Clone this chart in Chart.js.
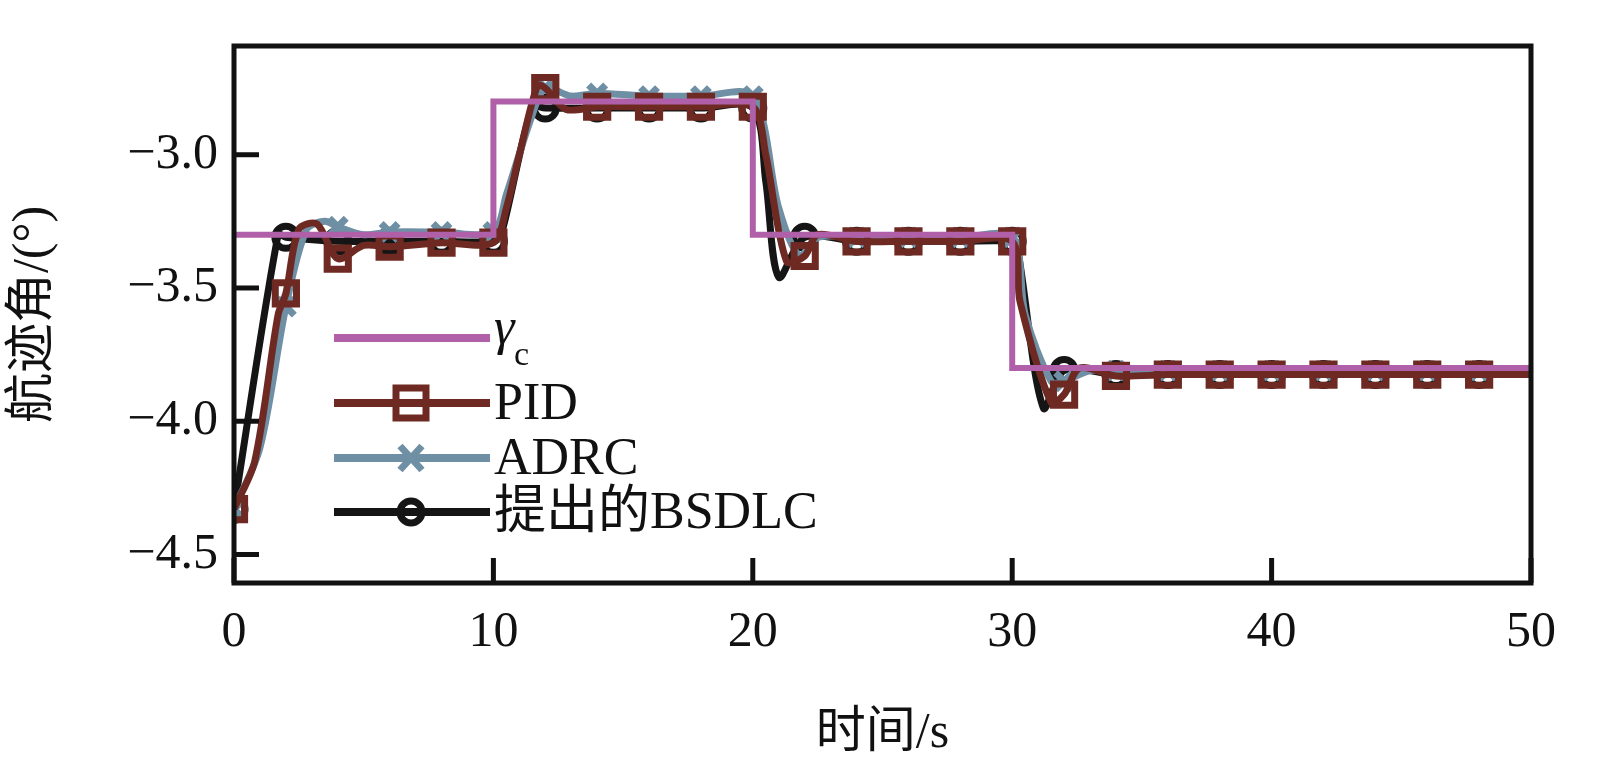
<!DOCTYPE html>
<html><head><meta charset="utf-8">
<script src="https://cdn.jsdelivr.net/npm/chart.js@4.4.0/dist/chart.umd.min.js"></script>
<style>html,body{margin:0;background:#fff;overflow:hidden}#wrap{width:1603px;height:768px}canvas{display:block}</style>
</head><body><div id="wrap"><canvas id="c"></canvas></div>
<script>
// reference command
const refT = [0, 10, 10, 20, 20, 30, 30, 50];
const refY = [-3.30, -3.30, -2.80, -2.80, -3.30, -3.30, -3.80, -3.80];

// PID
const pidT = [0, 0.8, 1.7, 2, 2.5, 3.2, 4, 5, 6, 8, 10, 10.5, 11, 11.7, 12, 12.8, 14, 16, 18, 20, 20.5, 21.3, 22, 22.5, 24, 26, 28, 30, 30.3, 31.5, 32, 32.6, 34, 36, 38, 40, 42, 44, 46, 48, 50];
const pidY = [-4.33, -4.15, -3.60, -3.52, -3.28, -3.26, -3.39, -3.34, -3.345, -3.33, -3.33, -3.20, -3.00, -2.74, -2.75, -2.83, -2.82, -2.82, -2.82, -2.82, -3.00, -3.40, -3.38, -3.30, -3.325, -3.325, -3.325, -3.325, -3.55, -3.93, -3.90, -3.80, -3.83, -3.825, -3.825, -3.825, -3.825, -3.825, -3.825, -3.825, -3.825];

// ADRC
const adrcT = [0, 1, 2, 2.8, 3.5, 4, 5, 6, 8, 10, 10.5, 11.5, 12, 13, 14, 16, 18, 20, 21, 21.8, 22.5, 24, 26, 28, 30, 30.5, 31.5, 32, 33, 34, 36, 38, 40, 42, 44, 46, 48, 50];
const adrcY = [-4.33, -4.10, -3.57, -3.28, -3.25, -3.27, -3.30, -3.29, -3.29, -3.29, -3.15, -2.85, -2.75, -2.78, -2.77, -2.78, -2.78, -2.78, -3.20, -3.38, -3.31, -3.31, -3.31, -3.31, -3.31, -3.60, -3.85, -3.85, -3.81, -3.81, -3.81, -3.81, -3.81, -3.81, -3.81, -3.81, -3.81, -3.81];

// proposed BSDLC
const bsT = [0, 1.7, 2, 4, 6, 8, 10, 10.3, 11.5, 12, 14, 16, 18, 20, 20.5, 21, 22, 24, 26, 28, 30, 30.2, 31.2, 32, 34, 36, 38, 40, 42, 44, 46, 48, 50];
const bsY = [-4.33, -3.30, -3.31, -3.325, -3.325, -3.325, -3.325, -3.30, -2.82, -2.825, -2.825, -2.825, -2.825, -2.825, -3.10, -3.46, -3.31, -3.325, -3.325, -3.325, -3.325, -3.35, -3.95, -3.81, -3.825, -3.825, -3.825, -3.825, -3.825, -3.825, -3.825, -3.825, -3.825];

const xTicks = [0, 10, 20, 30, 40, 50];
const yTicks = [-3.0, -3.5, -4.0, -4.5];

const pts = (t, y) => t.map((v, i) => ({x: v, y: y[i]}));
const markAt = r => ctx => {
  const x = ctx.raw && ctx.raw.x;
  return (x % 2 === 0 && x < 50) ? r : 0;
};

const series = [
  {label: 'γc', data: pts(refT, refY), borderColor: '#b060a8', borderWidth: 6, pointRadius: 0},
  {label: 'PID', data: pts(pidT, pidY), borderColor: '#6e2a22', borderWidth: 7, tension: 0.3,
   pointStyle: 'rect', pointRadius: markAt(15), pointBorderWidth: 7, pointBackgroundColor: 'rgba(0,0,0,0)', pointBorderColor: '#6e2a22'},
  {label: 'ADRC', data: pts(adrcT, adrcY), borderColor: '#6f8fa5', borderWidth: 7, tension: 0.3,
   pointStyle: 'crossRot', pointRadius: markAt(12), pointBorderWidth: 7, pointBorderColor: '#6f8fa5'},
  {label: '提出的BSDLC', data: pts(bsT, bsY), borderColor: '#151515', borderWidth: 7, tension: 0.3,
   pointStyle: 'circle', pointRadius: markAt(11), pointBorderWidth: 7, pointBackgroundColor: 'rgba(0,0,0,0)', pointBorderColor: '#151515'}
];

const serif = '"Liberation Serif", "Noto Sans CJK SC", serif';

const frame = {
  id: 'frame',
  afterDraw(chart) {
    const {ctx, chartArea: a, scales} = chart;
    ctx.save();
    ctx.strokeStyle = '#111';
    ctx.lineWidth = 5;
    ctx.strokeRect(a.left, a.top, a.right - a.left, a.bottom - a.top);
    xTicks.forEach(v => {
      const px = scales.x.getPixelForValue(v);
      ctx.beginPath(); ctx.moveTo(px, a.bottom); ctx.lineTo(px, a.bottom - 25); ctx.stroke();
    });
    yTicks.forEach(v => {
      const py = scales.y.getPixelForValue(v);
      ctx.beginPath(); ctx.moveTo(a.left, py); ctx.lineTo(a.left + 25, py); ctx.stroke();
    });
    // legend
    const rows = [338, 403, 458, 512];
    chart.data.datasets.forEach((d, i) => {
      const y = rows[i];
      ctx.strokeStyle = d.borderColor; ctx.lineWidth = 8;
      ctx.beginPath(); ctx.moveTo(334, y); ctx.lineTo(490, y); ctx.stroke();
      ctx.lineWidth = 7;
      if (i === 1) { ctx.strokeRect(396, y - 15, 30, 30); }
      if (i === 2) { ctx.beginPath(); ctx.moveTo(400, y - 12); ctx.lineTo(422, y + 12); ctx.moveTo(422, y - 12); ctx.lineTo(400, y + 12); ctx.stroke(); }
      if (i === 3) { ctx.beginPath(); ctx.arc(411, y, 11, 0, Math.PI * 2); ctx.stroke(); }
      ctx.fillStyle = '#111'; ctx.textBaseline = 'middle';
      if (i === 0) {
        ctx.font = 'italic 52px ' + serif; ctx.fillText('γ', 494, y - 8);
        ctx.font = '34px ' + serif; ctx.fillText('c', 514, y + 18);
      } else {
        ctx.font = '52px ' + serif; ctx.fillText(d.label, 494, y + 2);
      }
    });
    ctx.restore();
  }
};

new Chart(document.getElementById('c'), {
  type: 'line',
  data: {datasets: series},
  options: {
    responsive: true, maintainAspectRatio: false, animation: false,
    layout: {padding: {top: 0, right: 72, left: 0, bottom: 0}},
    plugins: {legend: {display: false}, tooltip: {enabled: false}},
    scales: {
      x: {
        type: 'linear', min: 0, max: 50,
        afterFit: s => { s.height = 185; },
        afterBuildTicks: s => { s.ticks = xTicks.map(v => ({value: v})); },
        grid: {display: false, drawTicks: false},
        border: {display: false},
        ticks: {color: '#111', font: {family: serif, size: 50}, padding: 20, maxRotation: 0},
        title: {display: true, text: '时间/s', color: '#111', font: {family: serif, size: 50}, padding: {top: 0}}
      },
      y: {
        min: -4.607, max: -2.592,
        afterFit: s => { s.width = 234; },
        afterBuildTicks: s => { s.ticks = yTicks.map(v => ({value: v})); },
        grid: {display: false, drawTicks: false},
        border: {display: false},
        ticks: {color: '#111', font: {family: serif, size: 50}, padding: 16,
                callback: v => v.toFixed(1).replace('-', '−')},
        title: {display: true, text: '航迹角/(°)', color: '#111', font: {family: serif, size: 50}, padding: {bottom: 2}}
      }
    }
  },
  plugins: [frame]
});
</script></body></html>
